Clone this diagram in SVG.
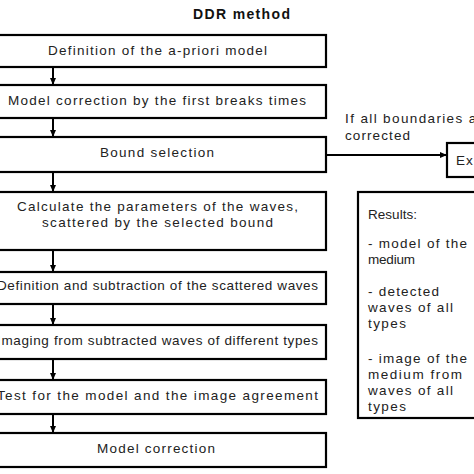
<svg xmlns="http://www.w3.org/2000/svg" width="474" height="474" viewBox="0 0 474 474">
<defs>
<marker id="ah" markerWidth="8" markerHeight="8" refX="7" refY="4" orient="auto" markerUnits="userSpaceOnUse">
<path d="M0,1 L7,4 L0,7 Z" fill="#000"/>
</marker>
<style>
.box{fill:#fff;stroke:#000;stroke-width:2.2}
.t{font-family:"Liberation Sans",Arial,sans-serif;font-size:13.5px;fill:#222;text-anchor:middle}
.l{font-family:"Liberation Sans",Arial,sans-serif;font-size:13.5px;fill:#222}
.c{stroke:#000;stroke-width:2;fill:none;marker-end:url(#ah)}
</style>
</defs>
<rect width="474" height="474" fill="#fff"/>
<text x="241.5" y="19" font-family="Liberation Sans,Arial,sans-serif" font-size="14" font-weight="bold" text-anchor="middle" fill="#111" textLength="97" lengthAdjust="spacing">DDR method</text>
<g id="connectors">
<line class="c" x1="53" y1="67" x2="53" y2="85"/>
<line class="c" x1="53" y1="118" x2="53" y2="137"/>
<line class="c" x1="53" y1="172" x2="53" y2="192"/>
<line class="c" x1="53" y1="250" x2="53" y2="272"/>
<line class="c" x1="53" y1="304" x2="53" y2="325"/>
<line class="c" x1="53" y1="359" x2="53" y2="380"/>
<line class="c" x1="53" y1="414" x2="53" y2="433"/>
<line class="c" x1="326" y1="155" x2="447" y2="155"/>
<text class="l" x="345" y="123" textLength="146" lengthAdjust="spacing">If all boundaries are</text>
<text class="l" x="345" y="140" textLength="65" lengthAdjust="spacing">corrected</text>
</g>
<g id="n1"><rect class="box" x="-12" y="35" width="338" height="32"/><text class="t" x="157.5" y="55" textLength="219" lengthAdjust="spacing">Definition of the a-priori model</text></g>
<g id="n2"><rect class="box" x="-12" y="85" width="338" height="33"/><text class="t" x="157" y="105" textLength="298" lengthAdjust="spacing">Model correction by the first breaks times</text></g>
<g id="n3"><rect class="box" x="-12" y="137" width="338" height="35"/><text class="t" x="157" y="157" textLength="114" lengthAdjust="spacing">Bound selection</text></g>
<g id="n4"><rect class="box" x="-12" y="192" width="338" height="58"/><text class="t" x="157.5" y="211" textLength="281" lengthAdjust="spacing">Calculate the parameters of the waves,</text><text class="t" x="157.5" y="227" textLength="231" lengthAdjust="spacing">scattered by the selected bound</text></g>
<g id="n5"><rect class="box" x="-12" y="272" width="338" height="32"/><text class="t" x="157.5" y="290" textLength="321" lengthAdjust="spacing">Definition and subtraction of the scattered waves</text></g>
<g id="n6"><rect class="box" x="-12" y="325" width="338" height="34"/><text class="t" x="157.5" y="345" textLength="321" lengthAdjust="spacing">Imaging from subtracted waves of different types</text></g>
<g id="n7"><rect class="box" x="-12" y="380" width="338" height="34"/><text class="t" x="157.5" y="400" textLength="321" lengthAdjust="spacing">Test for the model and the image agreement</text></g>
<g id="n8"><rect class="box" x="-12" y="433" width="338" height="34"/><text class="t" x="156" y="453" textLength="118" lengthAdjust="spacing">Model correction</text></g>
<g id="exit"><rect class="box" x="447" y="143" width="40" height="34"/><text class="l" x="456" y="165" letter-spacing="1">Exit</text></g>
<g id="results"><rect class="box" x="358" y="192" width="130" height="226"/>
<text class="l" x="368" y="219" textLength="49" lengthAdjust="spacing">Results:</text>
<text class="l" x="368" y="248" textLength="99" lengthAdjust="spacing">- model of the</text>
<text class="l" x="368" y="264" textLength="47" lengthAdjust="spacing">medium</text>
<text class="l" x="368" y="296" textLength="71" lengthAdjust="spacing">- detected</text>
<text class="l" x="368" y="312" textLength="85" lengthAdjust="spacing">waves of all</text>
<text class="l" x="368" y="328" textLength="38" lengthAdjust="spacing">types</text>
<text class="l" x="368" y="363" textLength="99" lengthAdjust="spacing">- image of the</text>
<text class="l" x="368" y="379" textLength="94" lengthAdjust="spacing">medium from</text>
<text class="l" x="368" y="395" textLength="85" lengthAdjust="spacing">waves of all</text>
<text class="l" x="368" y="411" textLength="38" lengthAdjust="spacing">types</text>
</g>
</svg>
